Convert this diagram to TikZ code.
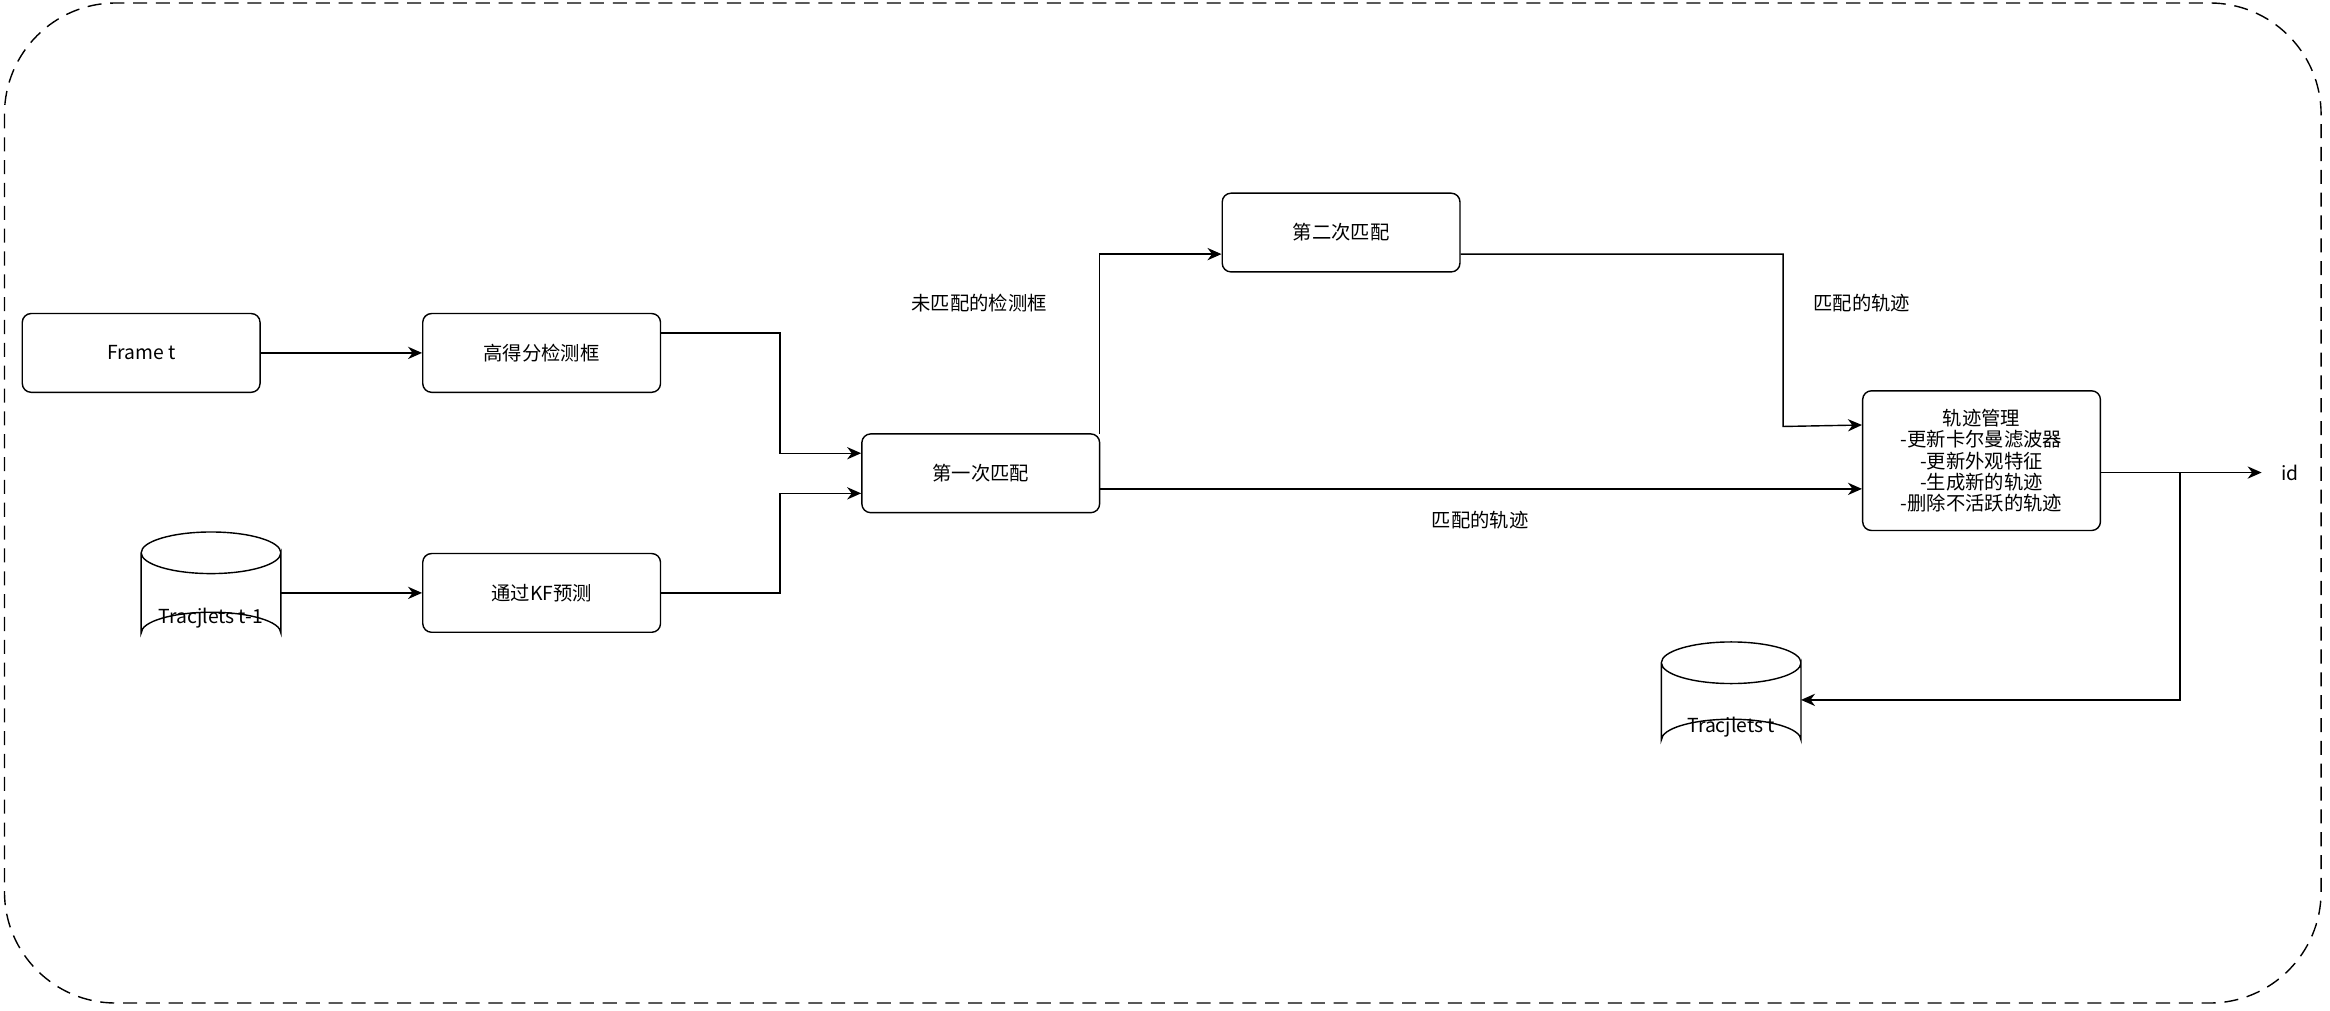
\documentclass[tikz,border=0pt]{standalone}
\usepackage{fontspec}
\setmainfont{Noto Sans CJK SC}
\begin{document}
\begin{tikzpicture}[x=0.02972cm,y=-0.02972cm,
  box/.style={draw,thick,rounded corners=5pt,minimum width=160*0.02972cm,minimum height=53*0.02972cm,font=\fontsize{11}{13}\selectfont},
  lbl/.style={font=\fontsize{11}{13}\selectfont},
  arr/.style={->,thick,>={Stealth[length=8pt,width=7pt]}}]
\usetikzlibrary{arrows.meta}
\useasboundingbox (0,0) rectangle (1568,680);
\draw[thick,dashed,dash pattern=on 8pt off 5pt,rounded corners=75*0.02972cm] (3,2) rectangle (1562,675);
\node[box] (ft) at (95,237.5) {Frame t};
\node[box] (hd) at (364.5,237.5) {高得分检测框};
\node[box] (kf) at (364.5,399) {通过KF预测};
\node[box] (m1) at (660,318.5) {第一次匹配};
\node[box] (m2) at (902.5,156.5) {第二次匹配};
\node[box,minimum height=94*0.02972cm,align=center,font=\fontsize{11}{12.2}\selectfont] (tm) at (1333.5,310) {轨迹管理\\-更新卡尔曼滤波器\\-更新外观特征\\-生成新的轨迹\\-删除不活跃的轨迹};
% cylinders
\draw[thick,fill=white] (95,372) -- (95,426) arc[start angle=180,end angle=360,x radius=47,y radius=14] -- (189,372) arc[start angle=0,end angle=360,x radius=47,y radius=14];
\node[lbl] (c1) at (142,416) {Tracjlets t-1};
\draw[thick,fill=white] (1118,446) -- (1118,498) arc[start angle=180,end angle=360,x radius=47,y radius=14] -- (1212,446) arc[start angle=0,end angle=360,x radius=47,y radius=14];
\node[lbl] (c2) at (1165,489) {Tracjlets t};
\coordinate (c1e) at (189,399);
\coordinate (c2e) at (1212,471);
\node[lbl] (id) at (1541,318) {id};
\node[lbl] (l1) at (659,204) {未匹配的检测框};
\node[lbl] (l2) at (1253,204) {匹配的轨迹};
\node[lbl] (l3) at (996,350) {匹配的轨迹};
\draw[arr] (ft.east) -- (hd.west);
\draw[arr] (c1e) -- (kf.west);
\draw[arr] (hd.east|-0,224) -- (525,224) -- (525,305) -- (m1.west|-0,305);
\draw[arr] (kf.east) -- (525,399) -- (525,332) -- (m1.west|-0,332);
\draw[arr] (740,292) -- (740,171) -- (m2.west|-0,171);
\draw[arr] (m1.east|-0,329) -- (tm.west|-0,329);
\draw[arr] (m2.east|-0,171) -- (1200,171) -- (1200,287) -- (tm.west|-0,286);
\draw[arr] (tm.east|-0,318) -- (1522,318);
\draw[arr] (1467,318) -- (1467,471) -- (c2e);
\end{tikzpicture}
\end{document}
